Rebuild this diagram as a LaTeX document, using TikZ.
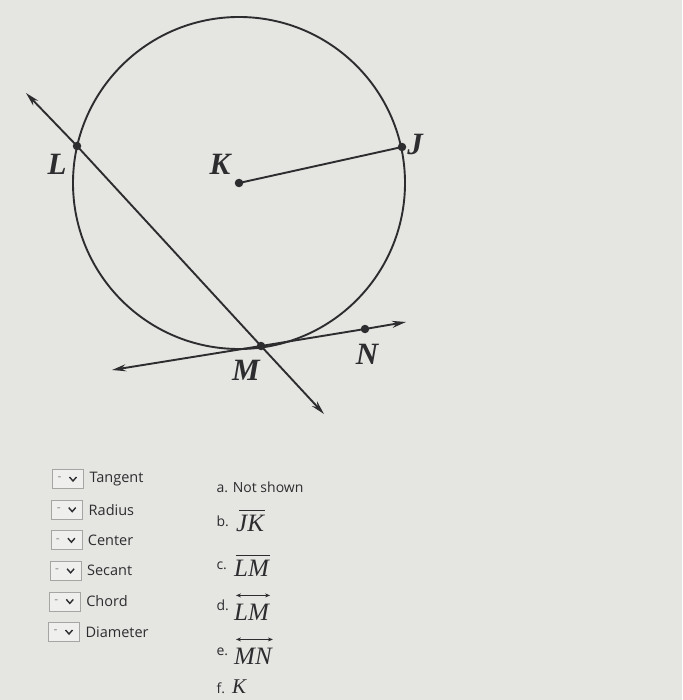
\documentclass[tikz,border=0pt]{standalone}
\usepackage{fontspec}
\setmainfont{Liberation Serif}
\setsansfont{Open Sans}
\usetikzlibrary{arrows.meta}

\definecolor{screen}{RGB}{229,229,226}
\definecolor{ink}{RGB}{45,45,48}
\definecolor{boxline}{RGB}{165,165,163}

\begin{document}
\begin{tikzpicture}[x=1pt, y=-1pt,
  line/.style={ink, line width=1.9pt},
  ray/.style={line, {Stealth[length=14pt,width=7pt]}-{Stealth[length=14pt,width=7pt]}},
  pt/.style={circle, fill=ink, inner sep=0pt, minimum size=8.5pt},
  ptname/.style={text=ink, font=\bfseries\itshape\fontsize{31}{31}\selectfont},
  dropbox/.style={draw=boxline, fill=screen!60!white, line width=0.8pt, minimum width=31pt, minimum height=19pt, inner sep=0pt},
  chevron/.style={ink, line width=1.4pt},
  choice/.style={anchor=west, text=ink, font=\sffamily\fontsize{14.5}{16}\selectfont},
  item/.style={anchor=base west, text=ink, font=\sffamily\fontsize{14}{16}\selectfont},
  term/.style={anchor=base west, text=ink, inner sep=1pt, font=\itshape\fontsize{25}{27}\selectfont},
  bar/.style={ink, line width=1.1pt},
  twoway/.style={bar, {Stealth[length=5pt,width=4pt]}-{Stealth[length=5pt,width=4pt]}}]

% background
\fill[screen] (0,0) rectangle (682,700);
\useasboundingbox (0,0) rectangle (682,700);

% points of the figure
\coordinate (K) at (239,183);
\coordinate (L) at (77,146);
\coordinate (J) at (402,147);
\coordinate (M) at (261,346);
\coordinate (N) at (365,329);
\coordinate (LMa) at (26,93);
\coordinate (LMb) at (324,414);
\coordinate (MNa) at (112,370);
\coordinate (MNb) at (406,322);

% circle, radius and lines
\draw[line] (K) circle[radius=166];
\draw[line] (K) -- (J);
\draw[ray] (LMa) -- (L) -- (M) -- (LMb);
\draw[ray] (MNa) -- (M) -- (N) -- (MNb);

% dots
\node[pt] (Kdot) at (K) {};
\node[pt] (Ldot) at (L) {};
\node[pt] (Jdot) at (J) {};
\node[pt] (Mdot) at (M) {};
\node[pt] (Ndot) at (N) {};

% point labels
\node[ptname] (Lname) at (57,164) {L};
\node[ptname] (Kname) at (220,164) {K};
\node[ptname] (Jname) at (415,145) {J};
\node[ptname] (Mname) at (246,370) {M};
\node[ptname] (Nname) at (367,354) {N};

% drop-down choices
\foreach \name [count=\i] in {Tangent,Radius,Center,Secant,Chord,Diameter}{
  \pgfmathsetmacro{\yy}{479+(\i-1)*30.6}
  \pgfmathsetmacro{\xx}{68-(\i-1)*0.8}
  \node[dropbox] (box\i) at (\xx,\yy) {};
  \node[text=boxline!80!black, font=\sffamily\fontsize{12}{12}\selectfont] (minus\i) at (\xx-8.5,\yy) {-};
  \draw[chevron] (\xx+1.5,\yy-2) -- ++(3.5,4) -- ++(3.5,-4);
  \node[choice] (lab\i) at (\xx+18,\yy) {\name};
}

% answer list
\node[item] (a) at (213,492) {a. Not shown};
\node[item] (b) at (213,526) {b.};
\node[term] (JK) at (235,531) {JK};
\node[item] (c) at (213,569) {c.};
\node[term] (LM) at (233,576) {LM};
\node[item] (d) at (213,610) {d.};
\node[term] (LMline) at (233,620) {LM};
\node[item] (e) at (213,655) {e.};
\node[term] (MN) at (233,664) {MN};
\node[item] (f) at (213,693) {f.};
\node[term] (Kans) at (231,693) {\fontsize{21}{23}\selectfont K};

% bars and arrows over the names
\draw[bar] ([xshift=4pt,yshift=3pt]JK.north west) -- ([yshift=3pt]JK.north east);
\draw[bar] ([xshift=3pt,yshift=3pt]LM.north west) -- ([yshift=3pt]LM.north east);
\draw[twoway] ([xshift=3pt,yshift=7pt]LMline.north west) -- ([yshift=7pt]LMline.north east);
\draw[twoway] ([xshift=3pt,yshift=7pt]MN.north west) -- ([yshift=7pt]MN.north east);

\end{tikzpicture}
\end{document}
